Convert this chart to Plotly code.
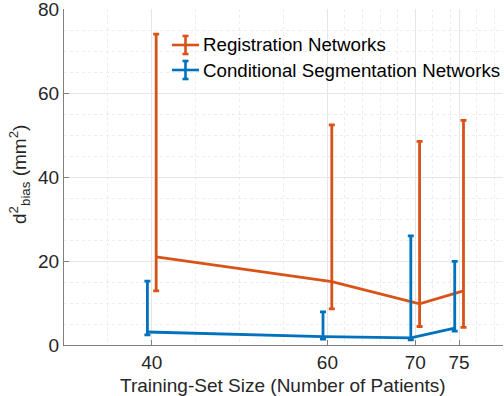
import plotly.graph_objects as go

# Data
sizes = [40, 60, 70, 75]
reg_mean = [21.0, 15.1, 9.8, 12.9]
reg_upper = [74.0, 52.4, 48.5, 53.5]
reg_lower = [12.9, 8.6, 4.4, 4.2]
seg_mean = [3.1, 2.0, 1.7, 4.0]
seg_upper = [15.2, 7.9, 26.0, 19.9]
seg_lower = [2.4, 1.4, 1.2, 3.3]
series_names = ["Registration Networks", "Conditional Segmentation Networks"]
x_ticks = [40, 60, 70, 75]
y_ticks = [0, 20, 40, 60, 80]
x_title = "Training-Set Size (Number of Patients)"
y_title = "d<sup>2</sup><sub>bias</sub> (mm<sup>2</sup>)"

RED = "#D95319"
BLUE = "#0072BD"
TXT = "#262626"
FONT = "Liberation Sans, Arial, Helvetica, sans-serif"

offset = 0.5
fig = go.Figure()

def add_series(xs, m, up, lo, color, dx):
    fig.add_trace(go.Scatter(
        x=[x + dx for x in xs], y=m, mode="lines",
        line=dict(color=color, width=2.8),
        error_y=dict(type="data", symmetric=False,
                     array=[u - v for u, v in zip(up, m)],
                     arrayminus=[v - l for v, l in zip(m, lo)],
                     color=color, thickness=2.8, width=3),
        showlegend=False))

add_series(sizes, reg_mean, reg_upper, reg_lower, RED, offset)
add_series(sizes, seg_mean, seg_upper, seg_lower, BLUE, -offset)

# plot area geometry in pixels (for legend glyph / title placement)
L, R, T, B = 64, 503, 9, 345
def px(X):
    return (X - L) / (R - L)
def py(Y):
    return (B - Y) / (B - T)

shapes = []
annotations = []
for name, color, yc in [(series_names[0], RED, 45), (series_names[1], BLUE, 70)]:
    shapes.append(dict(type="line", xref="paper", yref="paper", x0=px(172), x1=px(199),
                       y0=py(yc), y1=py(yc), line=dict(color=color, width=2.6)))
    shapes.append(dict(type="line", xref="paper", yref="paper", x0=px(185.5), x1=px(185.5),
                       y0=py(yc - 9), y1=py(yc + 9), line=dict(color=color, width=2.6)))
    for cy in (yc - 9, yc + 9):
        shapes.append(dict(type="line", xref="paper", yref="paper", x0=px(182.5), x1=px(188.5),
                           y0=py(cy), y1=py(cy), line=dict(color=color, width=2.6)))
    annotations.append(dict(text=name, xref="paper", yref="paper", x=px(201), y=py(yc),
                            xanchor="left", yanchor="middle", showarrow=False,
                            font=dict(family=FONT, size=18.7, color="#000000")))

annotations.append(dict(text=x_title, xref="paper", yref="paper", x=px(283), y=py(385),
                        xanchor="center", yanchor="middle", showarrow=False,
                        font=dict(family=FONT, size=19, color=TXT)))
annotations.append(dict(text=y_title, xref="paper", yref="paper", x=px(19), y=py(175),
                        xanchor="center", yanchor="middle", showarrow=False, textangle=-90,
                        font=dict(family=FONT, size=19, color=TXT)))

fig.update_layout(
    width=504, height=396,
    margin=dict(l=64, r=1, t=9, b=51),
    paper_bgcolor="white", plot_bgcolor="white",
    font=dict(family=FONT, size=19, color=TXT),
    shapes=shapes, annotations=annotations,
    xaxis=dict(range=[30, 80], tickvals=x_ticks, ticks="inside", ticklen=5,
               tickcolor="#808080", showline=True, linecolor="#808080", linewidth=1,
               showgrid=True, gridcolor="#e6e6e6", gridwidth=1, zeroline=False,
               automargin=False, ticklabeloverflow="allow",
               tickfont=dict(size=19, color=TXT),
               minor=dict(tickvals=[35, 45, 50, 55, 62, 64, 66, 68, 72, 74, 77, 79],
                          showgrid=True, gridcolor="#ececec", griddash="dot", gridwidth=1)),
    yaxis=dict(range=[0, 80], tickvals=y_ticks, ticks="inside", ticklen=5,
               tickcolor="#808080", showline=True, linecolor="#808080", linewidth=1,
               showgrid=True, gridcolor="#e6e6e6", gridwidth=1, zeroline=False,
               automargin=False, ticklabeloverflow="allow",
               tickfont=dict(size=19, color=TXT),
               minor=dict(dtick=5, showgrid=True, gridcolor="#ececec", griddash="dot", gridwidth=1)),
)

fig.write_html("out.html", config={"displayModeBar": False},
               post_script="document.body.style.margin='0';")
